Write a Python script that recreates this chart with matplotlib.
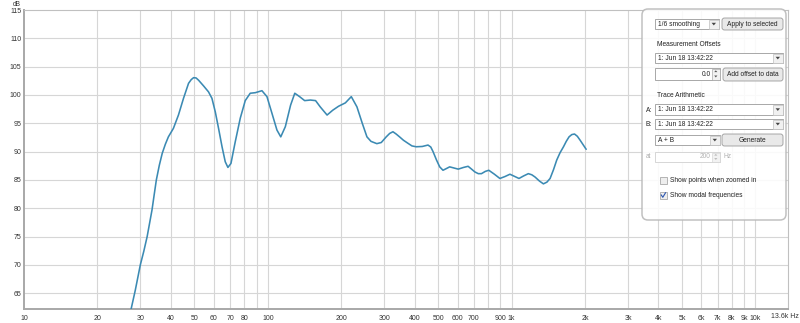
import matplotlib
matplotlib.use("Agg")
import matplotlib.pyplot as plt
from matplotlib.patches import FancyBboxPatch, Polygon

# ---------------- data ----------------
freq_hz = [27.5, 28.6, 30.0, 31.0, 32.0, 33.5, 34.2, 34.9, 35.9, 36.9, 38.0, 39.1,
           41.0, 43.0, 45.1, 47.3, 48.5, 49.6, 50.8, 52.0, 54.5, 57.1, 59.0, 60.9,
           62.8, 64.9, 66.9, 68.6, 70.6, 73.5, 77.1, 80.8, 84.7, 88.9, 94.6, 99.2,
           104, 109, 113, 118, 124, 129, 135, 141.6, 149.5, 157, 164, 175, 184.6,
           195, 208, 220, 232, 244, 255, 265, 280, 292, 306, 316, 326, 336, 347,
           360, 376, 390, 406, 430, 454, 466, 476, 492, 507, 523, 540, 557, 580,
           604, 635, 663, 685, 707, 730, 752, 780, 806, 850, 895, 940, 984, 1030,
           1072, 1120, 1171, 1210, 1248, 1300, 1350, 1395, 1438, 1485, 1531, 1580,
           1632, 1675, 1720, 1765, 1811, 1860, 1910, 1965, 2022]
spl_db = [62.2, 65.5, 70.0, 72.4, 75.0, 79.7, 82.4, 85.0, 87.6, 89.7, 91.3, 92.6,
          94.1, 96.45, 99.4, 102.05, 102.7, 103.05, 103.0, 102.6, 101.6, 100.55, 99.4, 97.0,
          94.1, 90.85, 88.2, 87.2, 87.9, 91.7, 95.9, 99.0, 100.3, 100.4, 100.75, 99.7,
          96.75, 93.8, 92.6, 94.4, 98.2, 100.3, 99.7, 99.0, 99.1, 99.0, 97.9, 96.45, 97.3,
          98.0, 98.6, 99.7, 97.9, 95.0, 92.6, 91.8, 91.4, 91.6, 92.6, 93.2, 93.5, 93.1, 92.6,
          92.0, 91.45, 91.0, 90.85, 90.9, 91.15, 90.8, 90.0, 88.5, 87.3, 86.7, 87.0, 87.3, 87.1,
          86.9, 87.2, 87.4, 86.9, 86.4, 86.1, 86.1, 86.5, 86.7, 86.0, 85.25, 85.6, 86.0, 85.6,
          85.25, 85.7, 86.1, 85.9, 85.5, 84.8, 84.3, 84.6, 85.25, 86.8, 88.5, 89.8,
          90.85, 91.8, 92.6, 93.0, 93.1, 92.7, 92.0, 91.2, 90.4]

x_tick_vals = [10, 20, 30, 40, 50, 60, 70, 80, 100, 200, 300, 400, 500, 600, 700,
               900, 1000, 2000, 3000, 4000, 5000, 6000, 7000, 8000, 9000, 10000]
x_tick_labels = ["10", "20", "30", "40", "50", "60", "70", "80", "100", "200", "300",
                 "400", "500", "600", "700", "900", "1k", "2k", "3k", "4k", "5k", "6k",
                 "7k", "8k", "9k", "10k"]
x_grid_vals = [20, 30, 40, 50, 60, 70, 80, 90, 100, 200, 300, 400, 500, 600, 700, 800,
               900, 1000, 2000, 3000, 4000, 5000, 6000, 7000, 8000, 9000, 10000]
y_tick_vals = [65, 70, 75, 80, 85, 90, 95, 100, 105, 110, 115]

X_MIN, X_MAX = 10, 13600
Y_MIN, Y_MAX = 62.2, 115

# ---------------- figure ----------------
W, H = 800, 323
plt.rcParams['font.family'] = ['Liberation Sans', 'DejaVu Sans']
fig = plt.figure(figsize=(W / 100, H / 100), dpi=100)
fig.patch.set_facecolor('white')

L, R, T, B = 24, 788, 10, 309
ax = fig.add_axes([L / W, (H - B) / H, (R - L) / W, (B - T) / H])
ax.set_xscale('log')
ax.set_xlim(X_MIN, X_MAX)
ax.set_ylim(Y_MIN, Y_MAX)
ax.minorticks_off()

grid_c = '#d6d6d6'
for g in x_grid_vals:
    ax.axvline(g, color=grid_c, lw=0.8, zorder=1)
for g in y_tick_vals[:-1]:
    ax.axhline(g, color=grid_c, lw=0.8, zorder=1)

ax.plot(freq_hz, spl_db, color='#3b8ab3', lw=1.15, zorder=3,
        solid_capstyle='round', solid_joinstyle='round')

ax.set_xticks(x_tick_vals)
ax.set_xticklabels(x_tick_labels)
ax.set_yticks(y_tick_vals)
ax.set_yticklabels([str(v) for v in y_tick_vals])
ax.tick_params(axis='both', length=0, labelsize=5.0, colors='#333333')
ax.tick_params(axis='x', pad=4)
ax.tick_params(axis='y', pad=2)

for s in ['top', 'right']:
    ax.spines[s].set_color('#c0c0c0')
    ax.spines[s].set_linewidth(0.8)
for s in ['left', 'bottom']:
    ax.spines[s].set_color('#a8a8a8')
    ax.spines[s].set_linewidth(1.4)

# ---------------- overlay (pixel coordinates) ----------------
ov = fig.add_axes([0, 0, 1, 1], zorder=10)
ov.set_xlim(0, W)
ov.set_ylim(H, 0)
ov.axis('off')

FS = 4.8
TXT = '#222222'
GREY_TXT = '#b0b0b0'

ov.text(17, 4.5, 'dB', fontsize=4.8, color='#333333', ha='center', va='center')
ov.text(785, 316.5, '13.6k Hz', fontsize=5.0, color='#333333', ha='center', va='center')


def box(x0, y0, x1, y1, fc='white', ec='#a8a8a8', lw=0.6, r=0.0, alpha=1.0, z=11):
    p = FancyBboxPatch((x0, y0), x1 - x0, y1 - y0,
                       boxstyle=f"round,pad=0,rounding_size={r}" if r > 0 else "square,pad=0",
                       fc=fc, ec=ec, lw=lw, alpha=alpha, zorder=z)
    ov.add_patch(p)


def down_arrow(cx, cy, s=2.2, c='#444444'):
    ov.add_patch(Polygon([(cx - s, cy - s * 0.55), (cx + s, cy - s * 0.55), (cx, cy + s * 0.65)],
                         closed=True, fc=c, ec='none', zorder=13))


def up_arrow(cx, cy, s=1.6, c='#444444'):
    ov.add_patch(Polygon([(cx - s, cy + s * 0.5), (cx + s, cy + s * 0.5), (cx, cy - s * 0.6)],
                         closed=True, fc=c, ec='none', zorder=13))


def dropdown(x0, y0, x1, y1, label):
    box(x0, y0, x1, y1, fc='white', ec='#9a9a9a', lw=0.6)
    box(x1 - 10, y0 + 0.5, x1 - 0.5, y1 - 0.5, fc='#f0f0f0', ec='#c0c0c0', lw=0.5, z=12)
    down_arrow(x1 - 5.2, (y0 + y1) / 2)
    ov.text(x0 + 3, (y0 + y1) / 2, label, fontsize=FS, color=TXT, ha='left', va='center', zorder=14)


def button(x0, y0, x1, y1, label):
    box(x0, y0, x1, y1, fc='#e9e9e9', ec='#9a9a9a', lw=0.6, r=2.5)
    ov.text((x0 + x1) / 2, (y0 + y1) / 2, label, fontsize=FS, color=TXT,
            ha='center', va='center', zorder=14)


def spinner(x0, y0, x1, y1, value, enabled=True):
    ec = '#9a9a9a' if enabled else '#d0d0d0'
    tc = TXT if enabled else GREY_TXT
    ac = '#555555' if enabled else '#bbbbbb'
    box(x0, y0, x1, y1, fc='white', ec=ec, lw=0.6)
    box(x1 - 8, y0 + 0.5, x1 - 0.5, y1 - 0.5, fc='#f2f2f2', ec=ec, lw=0.4, z=12)
    ym = (y0 + y1) / 2
    up_arrow(x1 - 4.2, y0 + (ym - y0) / 2 + 0.3, c=ac)
    down_arrow(x1 - 4.2, ym + (y1 - ym) / 2 - 0.6, s=1.6, c=ac)
    ov.text(x1 - 9, ym, value, fontsize=FS, color=tc, ha='right', va='center', zorder=14)


def label(x, y, s, color=TXT):
    ov.text(x, y, s, fontsize=FS, color=color, ha='left', va='center', zorder=14)


# panel
box(642, 9, 786, 220, fc='white', ec='#b8b8b8', lw=1.1, r=6, alpha=0.88, z=10)

dropdown(655, 19, 719, 29, '1/6 smoothing')
button(722, 18, 783, 30, 'Apply to selected')
label(657, 44, 'Measurement Offsets')
dropdown(655, 53, 783, 63, '1: Jun 18 13:42:22')
spinner(655, 68, 720, 80, '0.0')
button(723, 68, 783, 81, 'Add offset to data')
label(657, 95.5, 'Trace Arithmetic')
label(646, 110, 'A:')
dropdown(655, 104, 783, 115, '1: Jun 18 13:42:22')
label(646, 124, 'B:')
dropdown(655, 119, 783, 129, '1: Jun 18 13:42:22')
dropdown(655, 135, 720, 145, 'A + B')
button(722, 134, 783, 146, 'Generate')
label(646, 157, 'at', color=GREY_TXT)
spinner(655, 152, 720, 162, '200', enabled=False)
label(724, 157, 'Hz', color=GREY_TXT)

# checkboxes
box(660, 177, 666.5, 183.5, fc='#eeeeee', ec='#999999', lw=0.5, z=12)
label(669.5, 180.2, 'Show points when zoomed in')
box(660, 192, 666.5, 198.5, fc='#eeeeee', ec='#999999', lw=0.5, z=12)
ov.plot([661.3, 662.8, 665.5], [195.0, 197.3, 192.8], color='#2a55b0', lw=0.8, zorder=14)
label(669.5, 195.2, 'Show modal frequencies')

fig.savefig('out.png', dpi=100, facecolor='white')
